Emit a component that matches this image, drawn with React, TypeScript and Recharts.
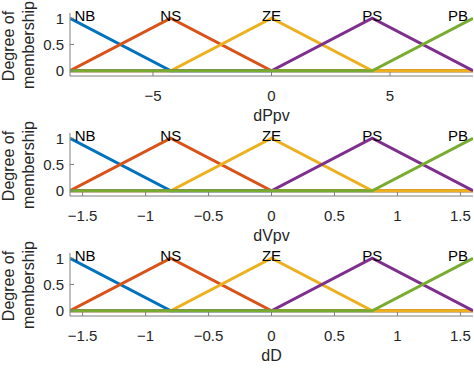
import { LineChart, Line, XAxis, YAxis, ReferenceDot } from 'recharts';

// membership function names and MATLAB default line colours
const mfNames = ['NB', 'NS', 'ZE', 'PS', 'PB'];
const mfColors = ['#0072BD', '#D95319', '#EDB120', '#7E2F8E', '#77AC30'];

// degree of membership at each breakpoint (triangles between breakpoints)
const nbValues = [1, 0, 0, 0, 0];
const nsValues = [0, 1, 0, 0, 0];
const zeValues = [0, 0, 1, 0, 0];
const psValues = [0, 0, 0, 1, 0];
const pbValues = [0, 0, 0, 0, 1];
const mfValues = [nbValues, nsValues, zeValues, psValues, pbValues];

// breakpoints of each input variable
const dPpvPoints = [-8.5, -4.25, 0, 4.25, 8.5];
const dVpvPoints = [-1.6, -0.8, 0, 0.8, 1.6];
const dDPoints = [-1.6, -0.8, 0, 0.8, 1.6];

// where the NB..PB names sit along x
const dPpvLabelX = [-7.87, -4.25, 0, 4.25, 7.87];
const dVpvLabelX = [-1.48, -0.8, 0, 0.8, 1.48];
const dDLabelX = [-1.48, -0.8, 0, 0.8, 1.48];

const dPpvTicks = [-5, 0, 5];
const dVpvTicks = [-1.5, -1, -0.5, 0, 0.5, 1, 1.5];
const dDTicks = [-1.5, -1, -0.5, 0, 0.5, 1, 1.5];
const yTicks = [0, 0.5, 1];

const axisColor = '#808080';
const textColor = '#262626';

// MATLAB draws a real minus sign in tick labels
const fmtTick = (v: number) => String(v).replace('-', '\u2212');

interface PanelProps {
  title: string;
  points: number[];
  labelX: number[];
  ticks: number[];
  top: number;
}

function YTitle() {
  return (
    <g fill={textColor} fontSize={16}>
      <text transform="translate(13.5 46) rotate(-90)" textAnchor="middle">Degree of</text>
      <text transform="translate(33.5 45) rotate(-90)" textAnchor="middle">membership</text>
    </g>
  );
}

function Panel({ title, points, labelX, ticks, top }: PanelProps) {
  const domain: [number, number] = [points[0], points[points.length - 1]];
  return (
    <div style={{ position: 'absolute', left: 0, top }}>
      <LineChart width={474} height={127} margin={{ top: 13, right: 1, bottom: 0, left: 0 }}>
        <XAxis
          type="number"
          dataKey="x"
          domain={domain}
          ticks={ticks}
          allowDataOverflow
          height={51}
          stroke={axisColor}
          tickSize={-4}
          tickMargin={18}
          tickFormatter={fmtTick}
          tick={{ fill: textColor, fontSize: 15 }}
          label={{ value: title, position: 'insideTop', offset: 34, fill: textColor, fontSize: 16 }}
        />
        <XAxis
          xAxisId="top"
          orientation="top"
          type="number"
          dataKey="x"
          domain={domain}
          ticks={ticks}
          allowDataOverflow
          height={0}
          stroke={axisColor}
          tickSize={-4}
          tick={false}
        />
        <YAxis
          type="number"
          domain={[-0.1, 1.1]}
          ticks={yTicks}
          allowDataOverflow
          width={70}
          stroke={axisColor}
          tickSize={-4}
          tickMargin={10}
          tick={{ fill: textColor, fontSize: 15 }}
        />
        <YAxis
          yAxisId="right"
          orientation="right"
          type="number"
          domain={[-0.1, 1.1]}
          ticks={yTicks}
          allowDataOverflow
          width={0}
          stroke={axisColor}
          tickSize={-4}
          tick={false}
        />
        {mfValues.map((vals, i) => (
          <Line
            key={mfNames[i]}
            data={points.map((x, j) => ({ x, y: vals[j] }))}
            dataKey="y"
            type="linear"
            stroke={mfColors[i]}
            strokeWidth={3}
            dot={false}
            isAnimationActive={false}
          />
        ))}
        {mfNames.map((name, i) => (
          <ReferenceDot
            key={name}
            x={labelX[i]}
            y={1.047}
            r={0}
            fill="none"
            stroke="none"
            label={{ value: name, position: 'center', fill: '#000', fontSize: 15 }}
          />
        ))}
        <YTitle />
      </LineChart>
    </div>
  );
}

export default function App() {
  return (
    <div
      style={{
        position: 'absolute',
        left: 0,
        top: 0,
        width: 474,
        height: 387,
        background: '#fff',
        fontFamily: '"Liberation Sans", Arial, sans-serif',
      }}
    >
      <Panel title="dPpv" points={dPpvPoints} labelX={dPpvLabelX} ticks={dPpvTicks} top={0} />
      <Panel title="dVpv" points={dVpvPoints} labelX={dVpvLabelX} ticks={dVpvTicks} top={120} />
      <Panel title="dD" points={dDPoints} labelX={dDLabelX} ticks={dDTicks} top={240} />
    </div>
  );
}
